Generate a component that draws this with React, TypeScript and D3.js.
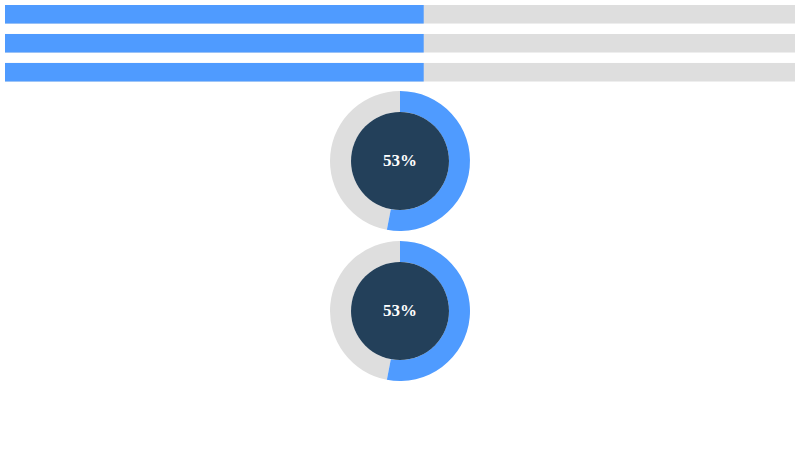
import * as d3 from "d3";
import React, { useEffect, useRef } from "react";

// progress values (fraction of total)
const BAR_VALUES = [0.53, 0.53, 0.53];
const DONUT_VALUES = [0.53, 0.53];

const BLUE = "#4f9bff";
const TRACK = "#dedede";
const DARK = "#23405a";

const W = 800;
const H = 450;

export default function App() {
  const svgRef = useRef<SVGSVGElement | null>(null);

  useEffect(() => {
    const svg = d3.select(svgRef.current);
    svg.selectAll("*").remove();

    // -------- progress bars --------
    const x = d3.scaleLinear().domain([0, 1]).range([5, 795]);
    const y = d3.scaleBand<number>()
      .domain(BAR_VALUES.map((_, i) => i))
      .range([5, 81.5])
      .paddingInner(0.36);

    const bars = svg.append("g")
      .selectAll("g")
      .data(BAR_VALUES)
      .join("g");

    bars.append("rect")
      .attr("x", x(0))
      .attr("y", (_, i) => y(i)!)
      .attr("width", x(1) - x(0))
      .attr("height", y.bandwidth())
      .attr("fill", TRACK);

    bars.append("rect")
      .attr("x", x(0))
      .attr("y", (_, i) => y(i)!)
      .attr("width", d => x(d) - x(0))
      .attr("height", y.bandwidth())
      .attr("fill", BLUE);

    // -------- donuts --------
    const outerR = 70;
    const innerR = 49;
    const cy = d3.scaleLinear().domain([0, 1]).range([161, 311]);
    const angle = d3.scaleLinear().domain([0, 1]).range([0, Math.PI * 2]);
    const arc = d3.arc<{ a0: number; a1: number }>()
      .innerRadius(innerR)
      .outerRadius(outerR)
      .startAngle(d => d.a0)
      .endAngle(d => d.a1);

    const donuts = svg.append("g")
      .selectAll("g")
      .data(DONUT_VALUES)
      .join("g")
      .attr("transform", (_, i) => `translate(400,${cy(i)})`);

    donuts.append("path")
      .attr("d", d => arc({ a0: angle(d), a1: angle(1) }) as string)
      .attr("fill", TRACK);

    donuts.append("path")
      .attr("d", d => arc({ a0: angle(0), a1: angle(d) }) as string)
      .attr("fill", BLUE);

    donuts.append("circle")
      .attr("r", innerR)
      .attr("fill", DARK);

    donuts.append("text")
      .attr("text-anchor", "middle")
      .attr("dominant-baseline", "central")
      .attr("y", -1)
      .attr("fill", "#ffffff")
      .attr("font-family", "'Liberation Serif', serif")
      .attr("font-weight", 700)
      .attr("font-size", 17)
      .text(d => `${Math.round(d * 100)}%`);
  }, []);

  return (
    <svg
      ref={svgRef}
      width={W}
      height={H}
      style={{ position: "absolute", left: 0, top: 0, background: "#fff" }}
    />
  );
}
